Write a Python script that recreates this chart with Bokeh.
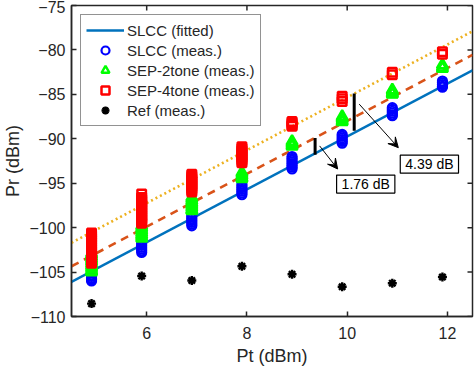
import math
from bokeh.plotting import figure
from bokeh.models import FixedTicker, Legend, LegendItem, Arrow, VeeHead, Label, Range1d
from bokeh.embed import file_html
from bokeh.resources import INLINE

# ---------------- data ----------------
pt_cols = [4.9, 5.9, 6.9, 7.9, 8.9, 9.9, 10.9, 11.9]

slcc_meas = [
    [-105.1, -105.3, -105.5, -105.7, -105.85, -106.0],
    [-101.6, -101.8, -102.0, -102.2, -102.4, -102.6, -102.8],
    [-98.6, -98.8, -99.0, -99.2, -99.4, -99.6, -99.8],
    [-95.1, -95.3, -95.5, -95.7, -95.9, -96.1, -96.3],
    [-92.0, -92.2, -92.4, -92.6, -92.8, -93.0, -93.2, -93.4],
    [-89.5, -89.7, -89.9, -90.1, -90.3, -90.5],
    [-86.5, -86.7, -86.9, -87.1, -87.3, -87.4],
    [-83.5, -83.7, -83.9, -84.1, -84.2],
]
sep2_meas = [
    [-102.9, -103.1, -103.3, -103.5, -103.7, -103.9, -104.1, -104.3, -104.5, -104.7, -104.9, -105.0],
    [-99.8, -100.0, -100.2, -100.4, -100.6, -100.8, -101.0, -101.2],
    [-96.6, -96.8, -97.0, -97.2, -97.4, -97.6, -97.8, -98.0, -98.1],
    [-93.8, -94.0, -94.2, -94.4, -94.5],
    [-90.3, -90.45, -90.6, -90.75, -90.85],
    [-87.5, -87.65, -87.8, -87.95, -88.1],
    [-84.5, -84.65, -84.8, -84.95, -85.0],
    [-81.7, -81.95, -82.1],
]
sep4_meas = [
    [-100.6, -100.8, -101.0, -101.2, -101.4, -101.6, -101.8, -102.0, -102.2, -102.4,
     -102.6, -102.8, -103.0, -103.2, -103.4, -103.6, -103.8, -104.0],
    [-96.2, -96.6, -96.8, -97.0, -97.2, -97.4, -97.6, -97.8, -98.0, -98.2, -98.4,
     -98.6, -98.8, -99.0, -99.2, -99.4, -99.5],
    [-94.0, -94.2, -94.4, -94.6, -94.8, -95.0, -95.2, -95.4, -95.6, -95.8, -96.0],
    [-90.9, -91.1, -91.3, -91.5, -91.7, -91.9, -92.1, -92.3, -92.5, -92.7],
    [-88.05, -88.2, -88.35, -88.5, -88.6],
    [-85.2, -85.5, -85.8],
    [-82.5, -82.8],
    [-80.2, -80.5],
]
ref_meas = [-108.55, -105.45, -105.95, -104.35, -105.25, -106.65, -106.25, -105.55]

fit_x = [4.5, 12.5]
slcc_fit = [-106.1, -82.3]
sep2_fit = [-104.35, -80.55]
sep4_fit = [-101.7, -77.9]

x_lim = [4.5, 12.5]
y_lim = [-110, -75]
x_ticks = [6, 8, 10, 12]
y_ticks = [-110, -105, -100, -95, -90, -85, -80, -75]

# annotations
gap_small = "1.76 dB"
gap_large = "4.39 dB"
bar_x = [9.36, 10.14]
bar_y0 = [-89.9, -84.9]
bar_y1 = [-91.8, -89.1]


def flatten(cols):
    xs, ys = [], []
    for x, vals in zip(pt_cols, cols):
        for v in vals:
            xs.append(x)
            ys.append(v)
    return xs, ys


FONT = "Liberation Sans"
AX = "#262626"

p = figure(width=474, height=370, output_backend="svg", toolbar_location=None,
           x_range=Range1d(*x_lim), y_range=Range1d(*y_lim),
           min_border_left=65, min_border_right=2, min_border_top=5, min_border_bottom=54)
p.background_fill_color = "white"
p.border_fill_color = "white"
p.grid.visible = False
p.outline_line_color = AX
p.outline_line_width = 1.5

for ax in (p.xaxis[0], p.yaxis[0]):
    ax.major_tick_in = 5
    ax.major_tick_out = 0
    ax.minor_tick_in = 0
    ax.minor_tick_out = 0
    ax.axis_line_color = AX
    ax.axis_line_width = 1.5
    ax.major_tick_line_color = AX
    ax.major_tick_line_width = 1.5
    ax.major_label_text_font = FONT
    ax.major_label_text_font_size = "16px"
    ax.major_label_text_color = AX
    ax.axis_label_text_font = FONT
    ax.axis_label_text_font_size = "18px"
    ax.axis_label_text_font_style = "normal"
    ax.axis_label_text_color = AX

p.xaxis[0].ticker = FixedTicker(ticks=x_ticks)
p.yaxis[0].ticker = FixedTicker(ticks=y_ticks)
p.xaxis[0].axis_label = "Pt (dBm)"
p.yaxis[0].axis_label = "Pr (dBm)"
p.xaxis[0].major_label_standoff = 10
p.xaxis[0].axis_label_standoff = 4
p.yaxis[0].major_label_standoff = 6
p.yaxis[0].axis_label_standoff = 3

# mirrored inward ticks on the right and top edges of the box
p.scatter([x_lim[1]] * len(y_ticks), y_ticks, marker="dash", size=10,
          line_color=AX, line_width=1.5)
p.scatter(x_ticks, [y_lim[1]] * len(x_ticks), marker="dash", size=10, angle=math.pi / 2,
          line_color=AX, line_width=1.5)

# lines
r_fit = p.line(fit_x, slcc_fit, line_color="#0072BD", line_width=2.4)
p.line(fit_x, sep2_fit, line_color="#D95319", line_width=2.6, line_dash="8 6")
p.line(fit_x, sep4_fit, line_color="#EDB120", line_width=2.6, line_dash="2 3")

sx, sy = flatten(slcc_meas)
r_slcc = p.scatter(sx, sy, marker="circle", size=9, fill_color=None, line_color="#0000FF", line_width=2.2)
gx, gy = flatten(sep2_meas)
r_sep2 = p.scatter(gx, gy, marker="triangle", size=11, fill_color=None, line_color="#00FF00", line_width=2.4)
rx, ry = flatten(sep4_meas)
r_sep4 = p.scatter(rx, ry, marker="square", size=8.5, fill_color=None, line_color="#FF0000", line_width=2.5)
r_ref = p.scatter(pt_cols, ref_meas, marker="asterisk", size=9, line_color="black", line_width=2.4)

# annotations
p.segment(x0=bar_x, y0=bar_y0, x1=bar_x, y1=bar_y1, line_color="black", line_width=3)
p.add_layout(Arrow(end=VeeHead(size=10, fill_color="black", line_color="black", line_width=1),
                   x_start=9.45, y_start=-90.8, x_end=9.81, y_end=-93.4,
                   line_color="black", line_width=1))
p.add_layout(Arrow(end=VeeHead(size=10, fill_color="black", line_color="black", line_width=1),
                   x_start=10.24, y_start=-86.1, x_end=11.02, y_end=-91.0,
                   line_color="black", line_width=1))
for (lx, ly, txt) in ((10.37, -95.1, gap_small), (11.64, -92.86, gap_large)):
    p.add_layout(Label(x=lx, y=ly, text=txt, text_align="center", text_baseline="middle",
                       text_font=FONT, text_font_size="14px", text_color="black",
                       background_fill_color="white", border_line_color="black",
                       border_line_width=1.2, padding=dict(left=5, right=5, top=1, bottom=1)))

legend = Legend(items=[
    LegendItem(label="SLCC (fitted)", renderers=[r_fit]),
    LegendItem(label="SLCC (meas.)", renderers=[r_slcc]),
    LegendItem(label="SEP-2tone (meas.)", renderers=[r_sep2]),
    LegendItem(label="SEP-4tone (meas.)", renderers=[r_sep4]),
    LegendItem(label="Ref (meas.)", renderers=[r_ref]),
], location="top_left")
legend.label_text_font = FONT
legend.label_text_font_size = "15px"
legend.label_text_color = AX
legend.glyph_width = 38
legend.glyph_height = 20
legend.label_height = 20
legend.label_standoff = 3
legend.spacing = 0
legend.padding = 5
legend.margin = 9
legend.border_line_color = AX
legend.border_line_width = 1.5
legend.background_fill_alpha = 1
p.add_layout(legend)

open("out.html", "w").write(file_html(p, INLINE))
